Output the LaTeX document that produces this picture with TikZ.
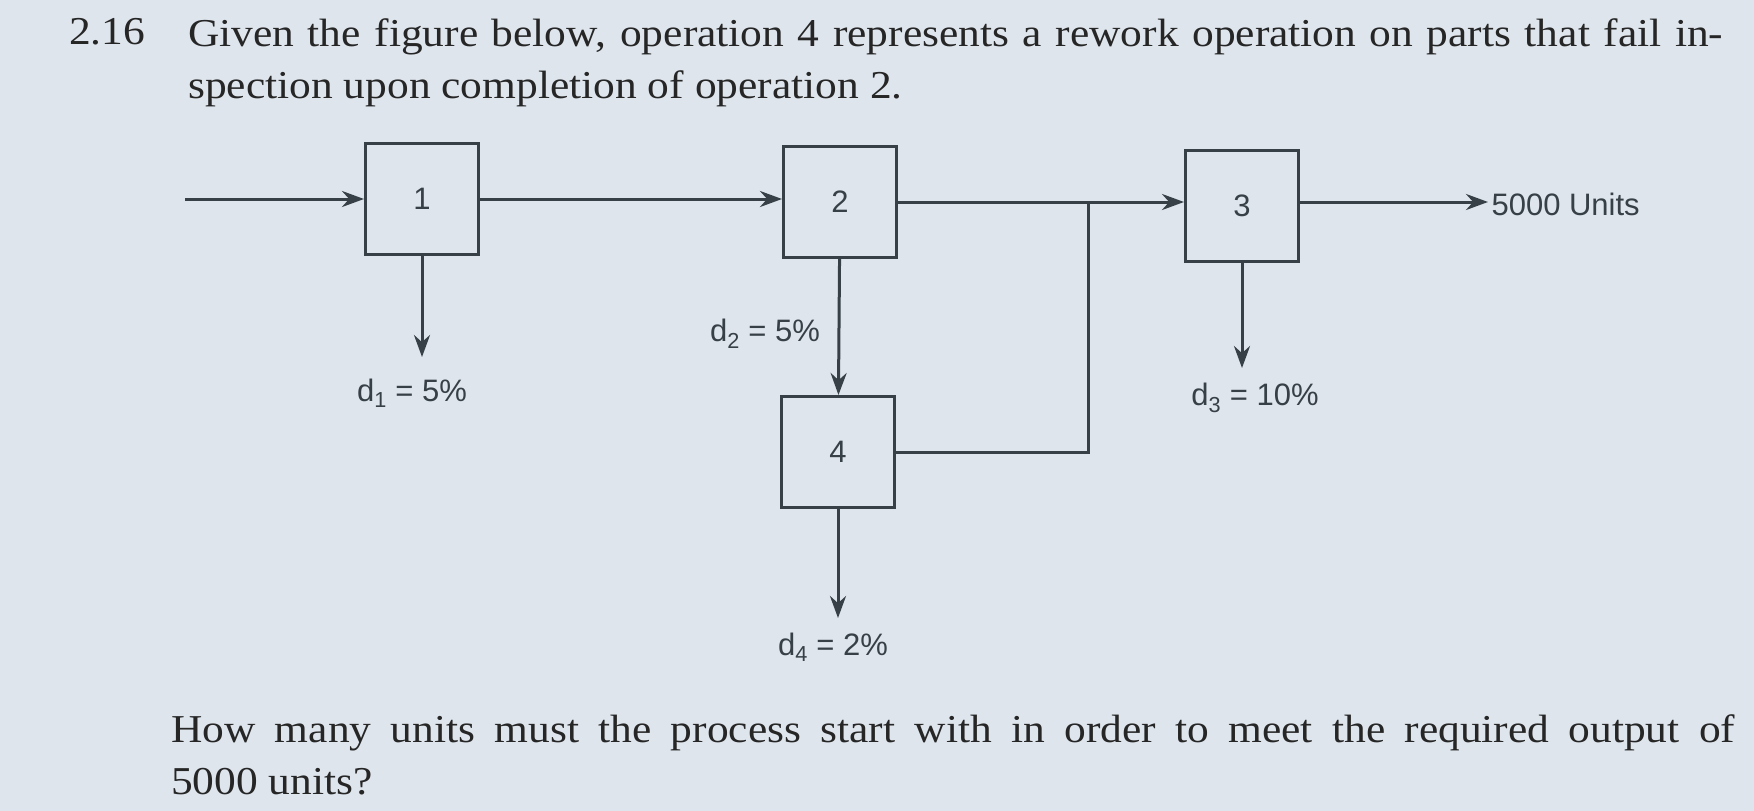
\documentclass[tikz,border=0pt]{standalone}
\usepackage{fontspec}
\setmainfont{Liberation Serif}[FakeStretch=1.1]
\newfontfamily\lab{Liberation Sans}
\usetikzlibrary{arrows.meta}
\definecolor{bg}{rgb}{0.87,0.90,0.93}
\definecolor{ink}{rgb}{0.22,0.25,0.28}
\begin{document}
\begin{tikzpicture}[x=1pt,y=-1pt,
  box/.style={draw=ink,line width=3pt,minimum width=113pt,minimum height=111pt,font=\lab\fontsize{31}{33}\selectfont,text=ink},
  lbl/.style={font=\lab\fontsize{31}{33}\selectfont,text=ink},
  ar/.style={draw=ink,line width=3pt,-{Stealth[length=22pt,width=16pt]}},
  ln/.style={draw=ink,line width=3pt},
  txt/.style={font=\fontsize{39.5}{52}\selectfont,text=black!85,align=justify,anchor=north west,inner sep=0pt}]
\fill[bg] (0,0) rectangle (1754,811);
\useasboundingbox (0,0) rectangle (1754,811);
\node[txt,text width=110pt,anchor=north west] (num) at (69,18) {2.16};
\node[txt,text width=1535pt] (q1) at (188,18) {Given the figure below, operation 4 represents a rework operation on parts that fail in-\linebreak spection upon completion of operation 2.};
\node[txt,text width=1564pt] (q2) at (171,714) {How many units must the process start with in order to meet the required output of\linebreak 5000 units?};
\node[box] (b1) at (422,199) {1};
\node[box] (b2) at (840,202) {2};
\node[box] (b3) at (1242,206) {3};
\node[box] (b4) at (838,452) {4};
\coordinate (in) at (185,199);
\coordinate (j) at (1088,202);
\node[lbl,anchor=west] (out) at (1488,204) {5000 Units};
\node[lbl] (d1) at (412,393) {d\textsubscript{1} = 5\%};
\node[lbl] (d2) at (765,334) {d\textsubscript{2} = 5\%};
\node[lbl] (d3) at (1255,398) {d\textsubscript{3} = 10\%};
\node[lbl] (d4) at (833,647) {d\textsubscript{4} = 2\%};
\coordinate (e1) at (422,357);
\coordinate (e3) at (1242,368);
\coordinate (e4) at (838,618);
\draw[ar] (in) -- (b1.west);
\draw[ar] (b1.east |- in) -- (b2.west |- in);
\draw[ln] (b2.east) -- (j);
\draw[ar] (j) -- (b3.west |- j);
\draw[ar] (b3.east |- j) -- (out.west |- j);
\draw[ar] (b1) -- (e1);
\draw[ar] (b2) -- (b4);
\draw[ar] (b3) -- (e3);
\draw[ar] (b4) -- (e4);
\draw[ln] (b4.east) -| (j);
\end{tikzpicture}
\end{document}
